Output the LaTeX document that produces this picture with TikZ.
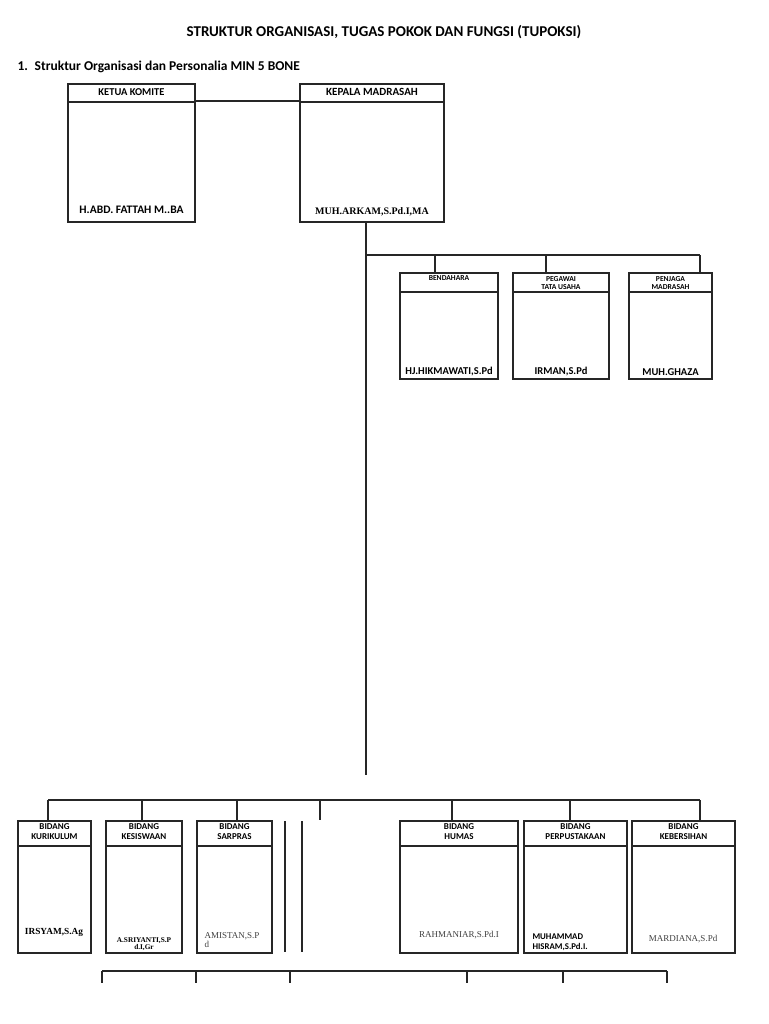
\documentclass[tikz,border=0pt]{standalone}
\usepackage{fontspec}
\setmainfont{Carlito}
\newfontfamily\serifn{Liberation Serif}
\begin{document}
\begin{tikzpicture}[x=1pt,y=-1pt,
  ln/.style={line width=1.1pt,black!85},
  bx/.style={draw,line width=1.1pt,black!85},
  hd/.style={font=\bfseries\fontsize{7}{8}\selectfont,align=center,anchor=north},
  nm/.style={font=\bfseries\fontsize{7.5}{8}\selectfont,align=center}]
\useasboundingbox (0,0) rectangle (768,1024);
\node[font=\bfseries\fontsize{15}{17}\selectfont] (title) at (384,32) {STRUKTUR ORGANISASI, TUGAS POKOK DAN FUNGSI (TUPOKSI)};
\node[font=\bfseries\fontsize{13.5}{15}\selectfont,anchor=west] (sub) at (14,67) {1.\enspace Struktur Organisasi dan Personalia MIN 5 BONE};
% top boxes
\draw[bx] (68,84) rectangle (195,222); \draw[ln] (68,102)--(195,102);
\node[hd,font=\bfseries\fontsize{10.5}{12}\selectfont] (kk) at (131.5,85) {KETUA KOMITE};
\node[nm,font=\bfseries\fontsize{11.5}{12}\selectfont] (kkn) at (131.5,210) {H.ABD. FATTAH M..BA};
\draw[bx] (300,84) rectangle (444,222); \draw[ln] (300,102)--(444,102);
\node[hd,font=\bfseries\fontsize{11}{12}\selectfont] (km) at (372,85) {KEPALA MADRASAH};
\node[nm,font=\serifn\bfseries\fontsize{10}{11}\selectfont] (kmn) at (372,212) {MUH.ARKAM,S.Pd.I,MA};
\coordinate (kkr) at (195,101); \coordinate (kml) at (300,101);
\draw[ln] (kkr)--(kml);
\coordinate (t0) at (366,222); \coordinate (t1) at (366,775);
\draw[ln] (t0)--(t1);
\draw[ln] (366,255)--(700,255);
% middle boxes
\foreach \a/\b/\h/\n in {400/498/{BENDAHARA}/{HJ.HIKMAWATI,S.Pd}, 513/609/{PEGAWAI\\TATA USAHA}/{IRMAN,S.Pd}, 629/712/{PENJAGA\\MADRASAH}/{MUH.GHAZA}}{
  \draw[bx] (\a,273) rectangle (\b,379); \draw[ln] (\a,292)--(\b,292);
  \node[hd,font=\fontsize{7.6}{8.5}\selectfont\bfseries] at ({(\a+\b)/2},272.5) {\h};
  \node[nm,font=\bfseries\fontsize{10.5}{11}\selectfont] at ({(\a+\b)/2},372) {\n};}
\draw[ln] (435,255)--(435,273); \draw[ln] (546,255)--(546,273); \draw[ln] (700,255)--(700,273);
% bottom row
\draw[ln] (48,800)--(700,800);
\foreach \x in {48,142,237,452,570,700}{\draw[ln] (\x,800)--(\x,821);}
\draw[ln] (320,800)--(320,820);
\foreach \a/\b/\h in {18/91/{BIDANG\\KURIKULUM},106/182/{BIDANG\\KESISWAAN},197/272/{BIDANG\\SARPRAS},400/518/{BIDANG\\HUMAS},524/627/{BIDANG\\PERPUSTAKAAN},632/735/{BIDANG\\KEBERSIHAN}}{
  \draw[bx] (\a,821) rectangle (\b,953); \draw[ln] (\a,846)--(\b,846);
  \node[hd,font=\fontsize{9}{10}\selectfont\bfseries] at ({(\a+\b)/2},820) {\h};}
\draw[ln] (285,821)--(285,952); \draw[ln] (302,821)--(302,952);
\node[nm,font=\serifn\bfseries\fontsize{9.3}{10}\selectfont] at (54,932) {IRSYAM,S.Ag};
\node[nm,font=\serifn\bfseries\fontsize{7.3}{7.5}\selectfont] at (144,944) {A.SRIYANTI,S.P\\d.I,Gr};
\node[font=\serifn\fontsize{9}{9.5}\selectfont,align=left,anchor=west,black!75] at (201,940) {AMISTAN,S.P\\d};
\node[font=\serifn\fontsize{9}{10}\selectfont,black!75] at (459,935) {RAHMANIAR,S.Pd.I};
\node[font=\bfseries\fontsize{8.8}{9.5}\selectfont,align=left,anchor=west] at (529,942) {MUHAMMAD\\HISRAM,S.Pd.I.};
\node[font=\serifn\fontsize{9}{10}\selectfont,black!75] at (683,939) {MARDIANA,S.Pd};
\draw[ln] (102,971)--(667,971);
\foreach \x in {102,196,290,467,563,667}{\draw[ln] (\x,971)--(\x,983);}
\end{tikzpicture}
\end{document}
